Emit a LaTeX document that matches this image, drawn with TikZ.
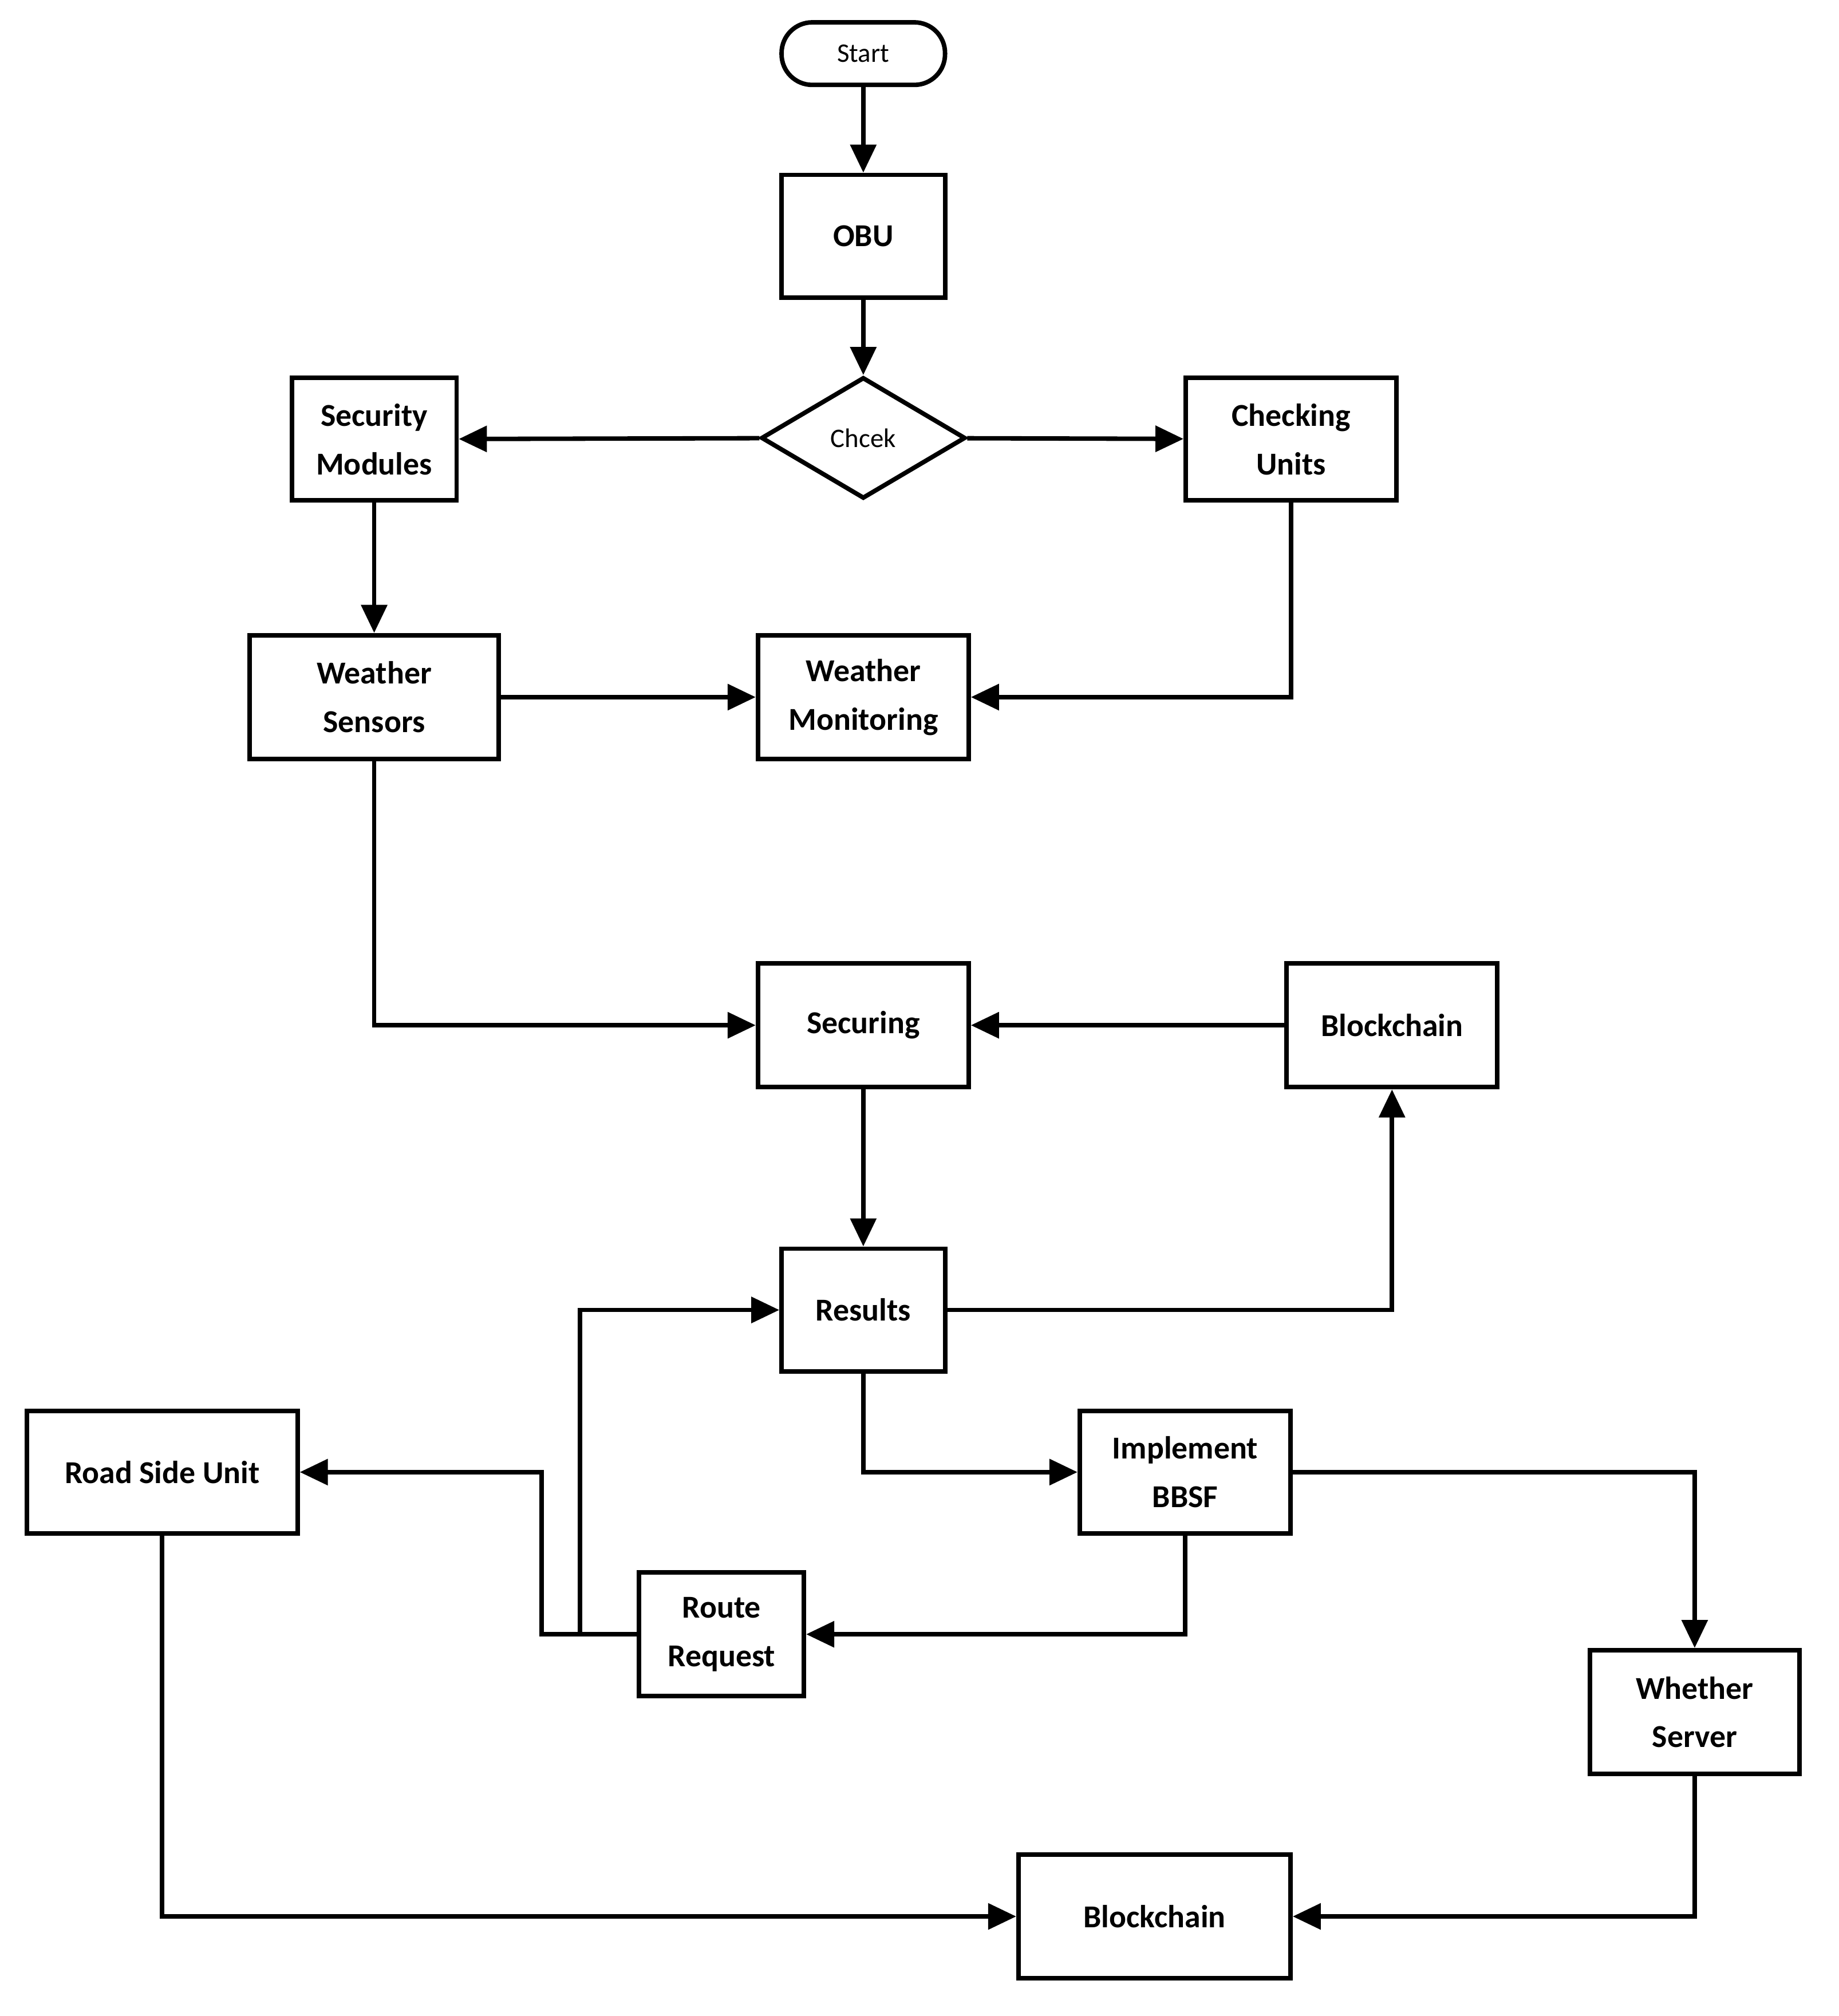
\documentclass[tikz,border=0pt]{standalone}
\usepackage{fontspec}
\setmainfont{Carlito}
\usetikzlibrary{shapes.geometric,arrows.meta}
\begin{document}
\begin{tikzpicture}[x=1pt,y=-1pt,
  box/.style={draw,line width=3.5pt,inner sep=0pt,font=\fontsize{25}{38}\selectfont\bfseries,align=center},
  ar/.style={line width=3.5pt,-{Triangle[length=22pt,width=20pt]}},
  ln/.style={line width=3.5pt}]
\useasboundingbox (0,0) rectangle (1440,1579);
\node[box,rounded corners=24pt,minimum width=128pt,minimum height=49pt,font=\fontsize{21}{26}\selectfont] (start) at (676,42) {Start};
\node[box,minimum width=128pt,minimum height=96pt] (obu) at (676,185) {OBU};
\node[box,diamond,aspect=1.7,minimum width=160pt,minimum height=95pt,font=\fontsize{21}{26}\selectfont] (chk) at (676,343) {Chcek};
\node[box,minimum width=129pt,minimum height=96pt] (sm) at (293,344) {Security\\Modules};
\node[box,minimum width=165pt,minimum height=96pt] (cu) at (1011,344) {Checking\\Units};
\node[box,minimum width=195pt,minimum height=97pt] (ws) at (293,546) {Weather\\Sensors};
\node[box,minimum width=165pt,minimum height=97pt] (wm) at (676,546) {Weather\\Monitoring};
\node[box,minimum width=165pt,minimum height=97pt] (sec) at (676,803) {Securing};
\node[box,minimum width=165pt,minimum height=97pt] (bc1) at (1090,803) {Blockchain};
\node[box,minimum width=128pt,minimum height=96pt] (res) at (676,1026) {Results};
\node[box,minimum width=212pt,minimum height=96pt] (rsu) at (127,1153) {Road Side Unit};
\node[box,minimum width=165pt,minimum height=96pt] (imp) at (928,1153) {Implement\\BBSF};
\node[box,minimum width=129pt,minimum height=97pt] (rr) at (565,1280) {Route\\Request};
\node[box,minimum width=164pt,minimum height=97pt] (whs) at (1327,1341) {Whether\\Server};
\node[box,minimum width=213pt,minimum height=97pt] (bc2) at (904,1501) {Blockchain};
\coordinate (j1) at (454,1280);
\draw[ar] (start) -- (obu);
\draw[ar] (obu) -- (chk);
\draw[ar] (chk) -- (sm);
\draw[ar] (chk) -- (cu);
\draw[ar] (sm) -- (ws);
\draw[ar] (ws) -- (wm);
\draw[ar] (cu.south) |- (wm.east);
\draw[ar] (ws.south) |- (sec.west);
\draw[ar] (bc1) -- (sec);
\draw[ar] (sec) -- (res);
\draw[ar] (res.east) -| (bc1.south);
\draw[ar] (res.south) |- (imp.west);
\draw[ar] (imp.south) |- (rr.east);
\draw[ar] (imp.east) -| (whs.north);
\draw[ar] (rr.west) -- (424,1280) |- (rsu.east);
\draw[ar] (j1) |- (res.west);
\draw[ar] (rsu.south) |- (bc2.west);
\draw[ar] (whs.south) |- (bc2.east);
\end{tikzpicture}
\end{document}
